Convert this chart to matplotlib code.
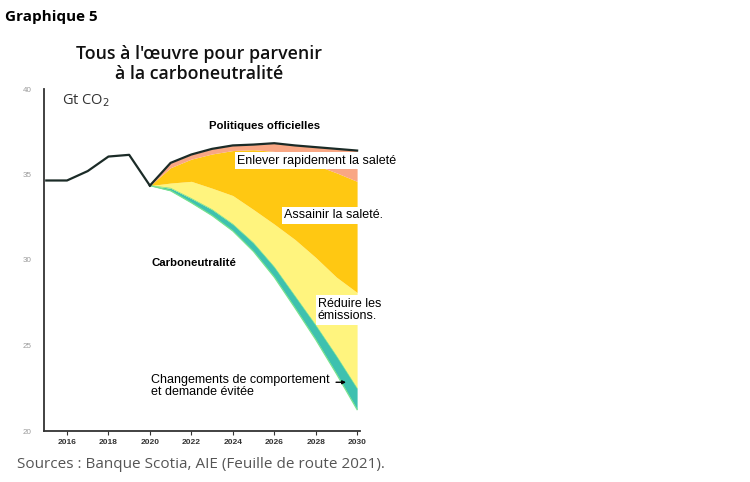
import matplotlib
matplotlib.use("Agg")
import matplotlib.pyplot as plt
import numpy as np

# Historique 2015-2020 (Gt CO2)
annees_hist = [2015, 2016, 2017, 2018, 2019, 2020]
emissions_hist = [34.65, 34.65, 35.2, 36.05, 36.15, 34.35]

# Scénarios 2020-2030
annees = [2020, 2021, 2022, 2023, 2024, 2025, 2026, 2027, 2028, 2029, 2030]
carboneutralite = [34.35, 34.05, 33.35, 32.6, 31.7, 30.5, 29.0, 27.2, 25.35, 23.35, 21.25]
comportement = [0, 0.15, 0.25, 0.35, 0.4, 0.5, 0.6, 0.7, 0.85, 1.05, 1.25]
reduire = [0, 0.3, 1.0, 1.25, 1.67, 1.95, 2.5, 3.3, 3.95, 4.6, 5.6]
assainir = [0, 0.9, 1.3, 2.0, 2.63, 3.5, 4.25, 4.8, 5.4, 6.1, 6.5]
enlever = [0, 0.28, 0.27, 0.3, 0.3, 0.3, 0.48, 0.7, 1.05, 1.4, 1.8]

couleurs = ["#3EC1AF", "#FFF47E", "#FFC812", "#F9A784"]
vert_clair = "#78E28E"
noir = "#1B2B27"

W, H = 750, 482
fig = plt.figure(figsize=(W / 100, H / 100), dpi=100)

def fx(x):
    return x / W

def fy(y):
    return 1 - y / H

ax = fig.add_axes([fx(44), fy(431), fx(360) - fx(44), fy(89) - fy(431)])

x = np.array(annees)
nz = np.array(carboneutralite)
bas = nz.copy()
for vals, c in zip([comportement, reduire, assainir, enlever], couleurs):
    haut = bas + np.array(vals)
    ax.fill_between(x, bas, haut, color=c, lw=0)
    bas = haut
politiques = bas

# bords vert clair de la bande "comportement"
ax.plot(x, nz, color=vert_clair, lw=0.9)
ax.plot(x, nz + np.array(comportement), color=vert_clair, lw=0.5)

ax.plot(annees_hist, emissions_hist, color=noir, lw=1.6)
ax.plot(x, politiques, color=noir, lw=1.6)

ax.set_xlim(2014.89, 2030.14)
ax.set_ylim(20, 40)
ax.set_xticks(range(2016, 2031, 2))
ax.set_yticks([20, 25, 30, 35, 40])
for lab in ax.get_xticklabels():
    lab.set_fontfamily("Liberation Sans")
    lab.set_fontsize(6)
    lab.set_fontweight("bold")
    lab.set_color("#333333")
for lab in ax.get_yticklabels():
    lab.set_fontfamily("Liberation Sans")
    lab.set_fontsize(5.8)
    lab.set_color("#9A9A9A")
ax.tick_params(axis="x", length=3, width=0.8, color="#333333", pad=3)
ax.tick_params(axis="y", length=0, pad=9)
for s in ["top", "right"]:
    ax.spines[s].set_visible(False)
for s in ["left", "bottom"]:
    ax.spines[s].set_color("#333333")
    ax.spines[s].set_linewidth(1.3)
ax.patch.set_alpha(0)

# Textes
fig.text(fx(5), fy(17), "Graphique 5", fontsize=11, fontweight="bold",
         family="Open Sans", va="center", ha="left")
fig.text(fx(199), fy(64), "Tous à l'œuvre pour parvenir\nà la carboneutralité",
         fontsize=12.8, fontweight="semibold", family="Open Sans",
         ha="center", va="center", linespacing=1.15, color="#111111")
fig.text(fx(62), fy(101), "Gt CO$_2$", fontsize=10.5, family="Open Sans",
         color="#333333", va="center", ha="left")
fig.text(fx(17), fy(465), "Sources : Banque Scotia, AIE (Feuille de route 2021).",
         fontsize=11, family="Open Sans", color="#555555", va="center", ha="left")

fig.text(fx(209), fy(126), "Politiques officielles", fontsize=8.2, fontweight="bold",
         family="Liberation Sans", va="center", ha="left")
fig.text(fx(152), fy(263), "Carboneutralité", fontsize=8.2, fontweight="bold",
         family="Liberation Sans", va="center", ha="left")

boite = dict(boxstyle="square,pad=0.2", fc="white", ec="none")
fig.text(fx(237), fy(161), "Enlever rapidement la saleté", fontsize=9,
         family="Liberation Sans", va="center", ha="left", bbox=boite)
fig.text(fx(284), fy(215), "Assainir la saleté.", fontsize=9,
         family="Liberation Sans", va="center", ha="left", bbox=boite)
fig.text(fx(318), fy(310), "Réduire les\némissions.", fontsize=9,
         family="Liberation Sans", va="center", ha="left", bbox=boite,
         linespacing=1.1)
fig.text(fx(151), fy(386), "Changements de comportement\net demande évitée",
         fontsize=9, family="Liberation Sans", va="center", ha="left",
         linespacing=1.05)
ax.annotate("", xy=(2029.6, 22.85), xytext=(2028.85, 22.85),
            arrowprops=dict(arrowstyle="-|>", color="black", lw=1, mutation_scale=5))

fig.savefig("out.png", dpi=100)
